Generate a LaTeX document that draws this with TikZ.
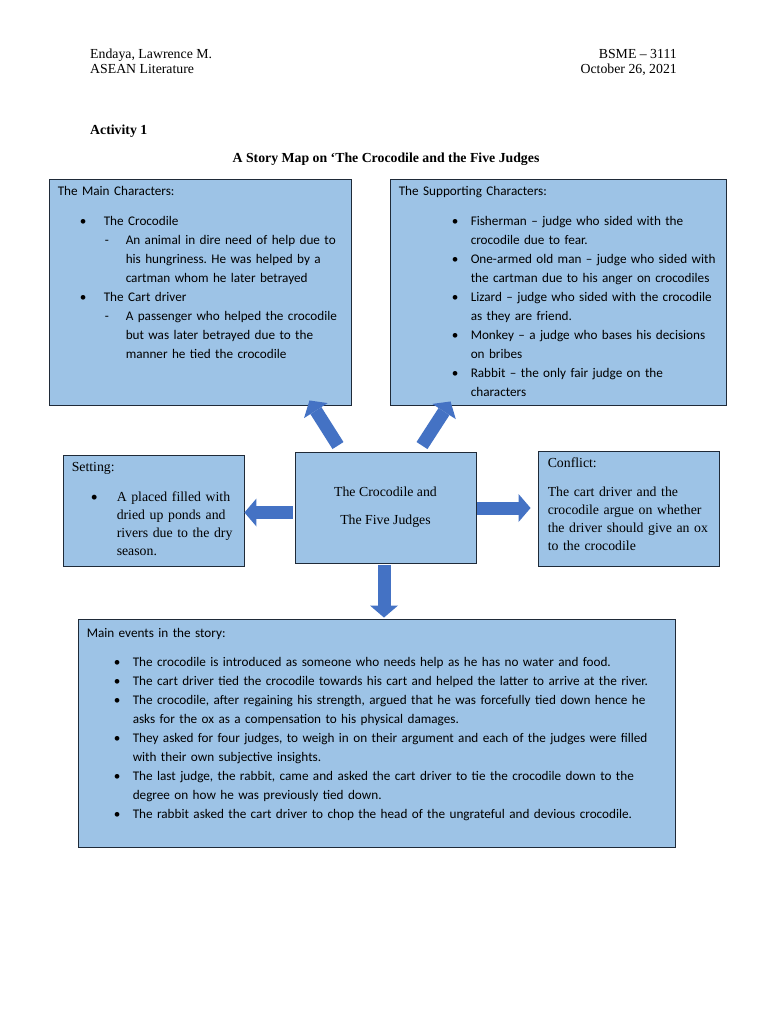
\documentclass[tikz,border=0pt]{standalone}
\usepackage{fontspec}
\setmainfont{Liberation Serif}
\newfontfamily\calibri{Carlito}
\usepackage{enumitem}
\setlist[itemize]{nosep, align=left}
\usetikzlibrary{arrows.meta,calc}
\definecolor{boxblue}{HTML}{9DC3E6}
\definecolor{boxline}{HTML}{1F2A38}
\definecolor{arrowblue}{HTML}{4472C4}
\frenchspacing
\tikzset{
  box/.style={draw=boxline, fill=boxblue, line width=0.9pt, inner sep=0pt},
  boxtext/.style={anchor=base west, inner sep=0pt, text width=#1pt, align=left,
    font=\calibri\fontsize{13.2}{19}\selectfont},
  serftext/.style={boxtext=#1, font=\fontsize{13.8}{18}\selectfont},
  blockarrow/.style={draw=arrowblue, line width=13pt,
    -{Triangle[length=12pt, width=28pt, line width=0pt]}},
}

\begin{document}
\begin{tikzpicture}[x=1pt, y=-1pt, font=\fontsize{13.8}{16}\selectfont]
  \path[use as bounding box, fill=white] (0,0) rectangle (768,1024);

  % Header lines
  \node[anchor=base west, inner sep=0pt] (name) at (90,59) {Endaya, Lawrence M.};
  \node[anchor=base west, inner sep=0pt] (course) at (90,74) {ASEAN Literature};
  \node[anchor=base east, inner sep=0pt] (section) at (677,59) {BSME -- 3111};
  \node[anchor=base east, inner sep=0pt] (date) at (677,74) {October 26, 2021};
  \node[anchor=base west, inner sep=0pt, font=\bfseries\fontsize{13.8}{16}\selectfont] (activity) at (90,135) {Activity 1};
  \node[anchor=base, inner sep=0pt, font=\bfseries\fontsize{13.8}{16}\selectfont] (title) at (386,163) {A Story Map on ‘The Crocodile and the Five Judges};

  % Boxes
  \node[box, minimum width=302pt, minimum height=226pt] (main) at (200,292) {};
  \node[box, minimum width=336pt, minimum height=226pt] (support) at (558,292) {};
  \node[box, minimum width=181pt, minimum height=111pt] (setting) at (153.5,510.5) {};
  \node[box, minimum width=181pt, minimum height=111pt, align=center,
    font=\fontsize{13.8}{28}\selectfont] (story) at (385.5,507.5) {The Crocodile and\\The Five Judges};
  \node[box, minimum width=181pt, minimum height=115pt] (conflict) at (628.5,508.5) {};
  \node[box, minimum width=597pt, minimum height=228pt] (events) at (376.5,733) {};

  % Box texts
  \node[boxtext=400] (maintext) at ($(main.north west)+(9,17)$) {The Main Characters:
    \begin{itemize}[label=\textbullet, left=22pt .. 46pt, topsep=11pt]
      \item The Crocodile
        \begin{itemize}[label=-, left=1pt .. 22pt]
          \item An animal in dire need of help due to\\his hungriness. He was helped by a\\cartman whom he later betrayed
        \end{itemize}
      \item The Cart driver
        \begin{itemize}[label=-, left=1pt .. 22pt]
          \item A passenger who helped the crocodile\\but was later betrayed due to the\\manner he tied the crocodile
        \end{itemize}
    \end{itemize}};
  \node[boxtext=400] (supporttext) at ($(support.north west)+(9,17)$) {The Supporting Characters:
    \begin{itemize}[label=\textbullet, left=53pt .. 72pt, topsep=11pt]
      \item Fisherman – judge who sided with the\\crocodile due to fear.
      \item One-armed old man – judge who sided with\\the cartman due to his anger on crocodiles
      \item Lizard – judge who sided with the crocodile\\as they are friend.
      \item Monkey – a judge who bases his decisions\\on bribes
      \item Rabbit – the only fair judge on the\\characters
    \end{itemize}};
  \node[serftext=300] (settingtext) at ($(setting.north west)+(9,17)$) {Setting:
    \begin{itemize}[label={\calibri\textbullet}, left=19pt .. 45pt, topsep=12pt]
      \item A placed filled with\\dried up ponds and\\rivers due to the dry\\season.
    \end{itemize}};
  \node[serftext=300] (conflicttext) at ($(conflict.north west)+(10,17)$) {Conflict:\\[11pt]
    The cart driver and the\\crocodile argue on whether\\the driver should give an ox\\to the crocodile};
  \node[boxtext=700] (eventstext) at ($(events.north west)+(9,19)$) {Main events in the story:
    \begin{itemize}[label=\textbullet, left=27pt .. 46pt, topsep=10pt]
      \item The crocodile is introduced as someone who needs help as he has no water and food.
      \item The cart driver tied the crocodile towards his cart and helped the latter to arrive at the river.
      \item The crocodile, after regaining his strength, argued that he was forcefully tied down hence he\\asks for the ox as a compensation to his physical damages.
      \item They asked for four judges, to weigh in on their argument and each of the judges were filled\\with their own subjective insights.
      \item The last judge, the rabbit, came and asked the cart driver to tie the crocodile down to the\\degree on how he was previously tied down.
      \item The rabbit asked the cart driver to chop the head of the ungrateful and devious crocodile.
    \end{itemize}};

  % Block arrows out of the centre box
  \draw[blockarrow] ($(story.north)+(-47.5,-6)$) -- ($(main.south east)+(-42,-5)$);
  \draw[blockarrow] ($(story.north)+(36.5,-6)$) -- ($(support.south west)+(61,-4)$);
  \coordinate (west0) at ($(story.west)+(-2,5)$);
  \draw[blockarrow] (west0) -- (west0 -| setting.east);
  \coordinate (east0) at ($(story.east)+(1,0.5)$);
  \draw[blockarrow] (east0) -- ($(east0 -| conflict.west)+(-7,0)$);
  \coordinate (south0) at ($(story.south)+(-1.5,2)$);
  \draw[blockarrow] (south0) -- ($(south0 |- events.north)+(0,-1)$);

\end{tikzpicture}
\end{document}
